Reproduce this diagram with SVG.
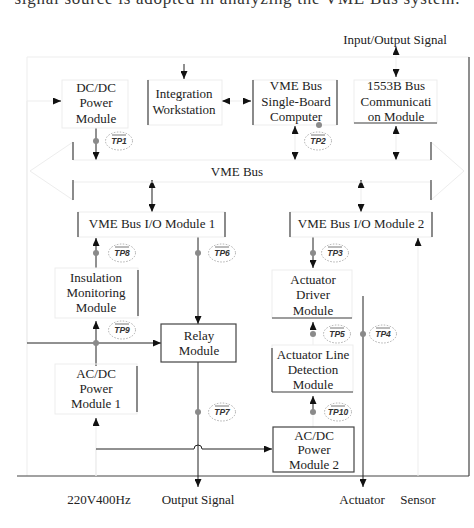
<svg xmlns="http://www.w3.org/2000/svg" width="474" height="528" viewBox="0 0 474 528">
<style>
  .t{font-family:"Liberation Serif","Times New Roman",serif;font-size:13px;fill:#222;text-anchor:middle}
  .tp{font-family:"Liberation Sans",Arial,sans-serif;font-size:8.5px;font-style:italic;font-weight:bold;fill:#333;text-anchor:middle}
  .d{stroke:#444;stroke-width:1.2;fill:none}
  .f{stroke:#ededed;stroke-width:1;fill:none}
  .tpo{stroke:#999;stroke-width:0.8;stroke-dasharray:1.5 1.5;fill:none}
  .tpl{stroke:#555;stroke-width:0.8;fill:none}
  .dot{fill:#8a8a8a}
  .a{stroke:#222;stroke-width:1;fill:none;marker-end:url(#ah)}
</style>
<defs>
  <marker id="ah" markerUnits="userSpaceOnUse" markerWidth="8" markerHeight="7" refX="8" refY="3.5" orient="auto">
    <path d="M0,0 L8,3.5 L0,7 z" fill="#111"/>
  </marker>
  <g id="tpshape">
    <ellipse cx="0" cy="0" rx="13.5" ry="9" class="tpo"/>
    <line x1="-7" y1="-6" x2="7" y2="-6" class="tpl"/>
  </g>
</defs>
<rect width="474" height="528" fill="#fff"/>

<text x="237" y="4" style="font-family:'Liberation Serif','Times New Roman',serif;font-size:17px;fill:#333" text-anchor="middle" textLength="445">signal source is adopted in analyzing the VME Bus system.</text>

<g id="frame">
  <line x1="27" y1="57" x2="469" y2="57" class="f"/>
  <line x1="27" y1="57" x2="27" y2="476" class="f"/>
  <line x1="469" y1="57" x2="469" y2="476" class="d"/>
  <line x1="17" y1="476" x2="469" y2="476" class="d"/>
</g>

<g id="connectors">
  <line x1="396" y1="52" x2="396" y2="72" class="f"/>
  <line x1="396" y1="55" x2="396" y2="47" class="a"/>
  <line x1="396" y1="69" x2="396" y2="77" class="a"/>
  <line x1="184" y1="64" x2="184" y2="79" class="a"/>
  <line x1="27" y1="101" x2="55" y2="101" class="f"/>
  <line x1="53" y1="101" x2="61" y2="101" class="a"/>
  <line x1="27" y1="101" x2="27" y2="343" class="f"/>
  <line x1="224" y1="101" x2="250" y2="101" class="f"/>
  <line x1="230" y1="101" x2="222" y2="101" class="a"/>
  <line x1="243" y1="101" x2="251" y2="101" class="a"/>
  <line x1="96" y1="128" x2="96" y2="160" class="a"/>
  <line x1="295" y1="130" x2="295" y2="156" class="f"/>
  <line x1="295" y1="134" x2="295" y2="126" class="a"/>
  <line x1="295" y1="152" x2="295" y2="160" class="a"/>
  <line x1="396" y1="130" x2="396" y2="156" class="f"/>
  <line x1="396" y1="134" x2="396" y2="126" class="a"/>
  <line x1="396" y1="152" x2="396" y2="160" class="a"/>
  <line x1="152" y1="188" x2="152" y2="204" class="d"/>
  <line x1="152" y1="188" x2="152" y2="180" class="a"/>
  <line x1="152" y1="204" x2="152" y2="212" class="a"/>
  <line x1="361" y1="184" x2="361" y2="208" class="f"/>
  <line x1="361" y1="188" x2="361" y2="180" class="a"/>
  <line x1="361" y1="204" x2="361" y2="212" class="a"/>
  <line x1="418" y1="244" x2="418" y2="476" class="f"/>
  <line x1="418" y1="246" x2="418" y2="238" class="a"/>
  <line x1="96" y1="268" x2="96" y2="238" class="a"/>
  <line x1="198" y1="237" x2="198" y2="324" class="a"/>
  <line x1="96" y1="366" x2="96" y2="321" class="a"/>
  <line x1="27" y1="343" x2="161" y2="343" class="a"/>
  <line x1="96" y1="476" x2="96" y2="426" class="f"/>
  <line x1="96" y1="426" x2="96" y2="418" class="a"/>
  <line x1="96" y1="476" x2="96" y2="449" class="f"/>
  <path d="M96,449 H194 A4,4 0 0 1 202,449 H272" class="a"/>
  <line x1="198" y1="362" x2="198" y2="487" class="a"/>
  <line x1="313" y1="237" x2="313" y2="268" class="a"/>
  <line x1="313" y1="345" x2="313" y2="330" class="f"/>
  <line x1="313" y1="330" x2="313" y2="322" class="a"/>
  <line x1="313" y1="427" x2="313" y2="412" class="f"/>
  <line x1="313" y1="412" x2="313" y2="396" class="a"/>
  <line x1="363" y1="296" x2="363" y2="487" class="a"/>
</g>

<g id="vme-bus">
  <polygon points="30,171 73,142 73,160 431,160 431,142 464,171 431,200 431,182 73,182 73,200" class="f"/>
  <line x1="73" y1="142" x2="73" y2="160" class="d"/>
  <line x1="73" y1="180" x2="73" y2="200" class="d"/>
  <line x1="431" y1="142" x2="431" y2="160" class="d"/>
  <line x1="431" y1="180" x2="431" y2="200" class="d"/>
  <text class="t" x="237" y="176">VME Bus</text>
</g>

<g id="dcdc">
  <rect x="62" y="80" width="66" height="48" class="f"/>
  <text class="t" x="96" y="92">DC/DC</text>
  <text class="t" x="96" y="107">Power</text>
  <text class="t" x="96" y="123">Module</text>
</g>

<g id="integration">
  <rect x="148" y="80" width="74" height="45" class="f"/>
  <line x1="148" y1="80" x2="148" y2="125" class="d"/>
  <text class="t" x="184" y="98">Integration</text>
  <text class="t" x="184" y="114">Workstation</text>
</g>

<g id="sbc">
  <rect x="253" y="80" width="84" height="45" class="f"/>
  <line x1="253" y1="80" x2="253" y2="125" class="d"/>
  <line x1="337" y1="80" x2="337" y2="125" class="d"/>
  <text class="t" x="296" y="90">VME Bus</text>
  <text class="t" x="296" y="106">Single-Board</text>
  <text class="t" x="296" y="121">Computer</text>
</g>

<g id="bus1553b">
  <rect x="354" y="80" width="83" height="43" class="f"/>
  <line x1="354" y1="123" x2="437" y2="123" class="d"/>
  <text class="t" x="396" y="90">1553B Bus</text>
  <text class="t" x="396" y="106">Communicati</text>
  <text class="t" x="396" y="121">on Module</text>
</g>

<g id="io1">
  <rect x="78" y="212" width="147" height="25" class="f"/>
  <line x1="78" y1="212" x2="78" y2="237" class="d"/>
  <line x1="225" y1="212" x2="225" y2="237" class="d"/>
  <text class="t" x="152" y="228">VME Bus I/O Module 1</text>
</g>

<g id="io2">
  <rect x="290" y="212" width="142" height="25" class="f"/>
  <line x1="290" y1="212" x2="290" y2="237" class="d"/>
  <line x1="432" y1="212" x2="432" y2="237" class="d"/>
  <text class="t" x="361" y="228">VME Bus I/O Module 2</text>
</g>

<g id="insulation">
  <rect x="55" y="268" width="83" height="50" class="f"/>
  <line x1="138" y1="270" x2="138" y2="316" class="d"/>
  <text class="t" x="96" y="282">Insulation</text>
  <text class="t" x="96" y="297">Monitoring</text>
  <text class="t" x="96" y="312">Module</text>
</g>

<g id="relay">
  <rect x="161" y="324" width="75" height="38" class="d"/>
  <text class="t" x="199" y="340">Relay</text>
  <text class="t" x="199" y="355">Module</text>
</g>

<g id="acdc1">
  <rect x="55" y="364" width="82" height="50" class="f"/>
  <line x1="137" y1="366" x2="137" y2="412" class="d"/>
  <text class="t" x="96" y="378">AC/DC</text>
  <text class="t" x="96" y="393">Power</text>
  <text class="t" x="96" y="408">Module 1</text>
</g>

<g id="actuator-driver">
  <rect x="272" y="270" width="80" height="48" class="f"/>
  <line x1="272" y1="318" x2="352" y2="318" class="d"/>
  <text class="t" x="313" y="284">Actuator</text>
  <text class="t" x="313" y="299">Driver</text>
  <text class="t" x="313" y="315">Module</text>
</g>

<g id="line-detection">
  <rect x="272" y="345" width="81" height="47" class="f"/>
  <line x1="272" y1="348" x2="272" y2="392" class="d"/>
  <line x1="272" y1="392" x2="353" y2="392" class="d"/>
  <text class="t" x="313" y="359">Actuator Line</text>
  <text class="t" x="313" y="374">Detection</text>
  <text class="t" x="313" y="389">Module</text>
</g>

<g id="acdc2">
  <rect x="273" y="427" width="81" height="45" class="d"/>
  <text class="t" x="314" y="440">AC/DC</text>
  <text class="t" x="314" y="454">Power</text>
  <text class="t" x="314" y="469">Module 2</text>
</g>

<g id="test-points">
  <circle class="dot" cx="96" cy="141" r="3"/>
  <circle class="dot" cx="319" cy="125" r="3"/>
  <circle class="dot" cx="96" cy="253" r="3"/>
  <circle class="dot" cx="198" cy="253" r="3"/>
  <circle class="dot" cx="96" cy="343" r="3"/>
  <circle class="dot" cx="313" cy="253" r="3"/>
  <circle class="dot" cx="313" cy="334" r="3"/>
  <circle class="dot" cx="363" cy="334" r="3"/>
  <circle class="dot" cx="198" cy="412" r="3"/>
  <circle class="dot" cx="313" cy="412" r="3"/>
  <g id="tp1"><use href="#tpshape" x="119" y="141"/><text class="tp" x="119" y="144">TP1</text></g>
  <g id="tp2"><use href="#tpshape" x="318" y="141"/><text class="tp" x="318" y="144">TP2</text></g>
  <g id="tp8"><use href="#tpshape" x="122" y="253"/><text class="tp" x="122" y="256">TP8</text></g>
  <g id="tp6"><use href="#tpshape" x="222" y="253"/><text class="tp" x="222" y="256">TP6</text></g>
  <g id="tp9"><use href="#tpshape" x="122" y="330"/><text class="tp" x="122" y="333">TP9</text></g>
  <g id="tp3"><use href="#tpshape" x="335" y="253"/><text class="tp" x="335" y="256">TP3</text></g>
  <g id="tp5"><use href="#tpshape" x="337" y="334"/><text class="tp" x="337" y="337">TP5</text></g>
  <g id="tp4"><use href="#tpshape" x="383" y="334"/><text class="tp" x="383" y="337">TP4</text></g>
  <g id="tp7"><use href="#tpshape" x="222" y="412"/><text class="tp" x="222" y="415">TP7</text></g>
  <g id="tp10"><use href="#tpshape" x="338" y="412"/><text class="tp" x="338" y="415">TP10</text></g>
</g>

<g id="io-labels">
  <text class="t" x="395" y="44">Input/Output Signal</text>
  <text class="t" x="99" y="504">220V400Hz</text>
  <text class="t" x="198" y="504">Output Signal</text>
  <text class="t" x="362" y="504">Actuator</text>
  <text class="t" x="418" y="504">Sensor</text>
</g>
</svg>
